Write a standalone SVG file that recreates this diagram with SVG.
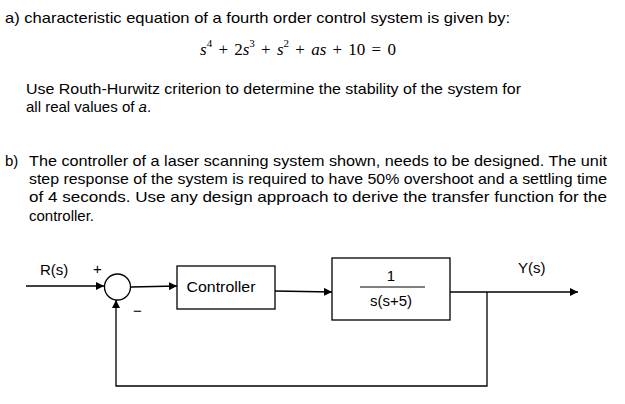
<svg xmlns="http://www.w3.org/2000/svg" width="625" height="404" viewBox="0 0 625 404">
<defs>
<style>
text{font-family:"Liberation Sans",Arial,sans-serif;font-size:15px;fill:#000}
.eq{font-family:"Liberation Serif","Times New Roman",serif;font-size:17px}
.sup{font-family:"Liberation Serif",serif;font-size:11px}
.ln{stroke:#000;stroke-width:1.3;fill:none}
.bx{stroke:#000;stroke-width:1.3;fill:#fff}
</style>
<marker id="ar" viewBox="0 0 10 10" refX="10" refY="5" markerWidth="8" markerHeight="8" orient="auto" markerUnits="userSpaceOnUse"><path d="M0,0 L10,5 L0,10 z" fill="#000"/></marker>
</defs>
<rect width="625" height="404" fill="#fff"/>
<text x="5" y="23" textLength="505" lengthAdjust="spacingAndGlyphs">a)  characteristic equation of a fourth order control system is given by:</text>
<text class="eq" y="55" word-spacing="2"><tspan x="200" font-style="italic">s</tspan><tspan class="sup" dy="-8">4</tspan><tspan dy="8"> + 2</tspan><tspan font-style="italic">s</tspan><tspan class="sup" dy="-8">3</tspan><tspan dy="8"> + </tspan><tspan font-style="italic">s</tspan><tspan class="sup" dy="-8">2</tspan><tspan dy="8"> + </tspan><tspan font-style="italic">as</tspan><tspan> + 10 = 0</tspan></text>
<text x="26" y="94" textLength="495" lengthAdjust="spacingAndGlyphs">Use Routh-Hurwitz criterion to determine the stability of the system for</text>
<text x="26" y="112">all real values of <tspan font-style="italic">a</tspan>.</text>
<text x="5" y="166">b)</text>
<text x="29" y="166" textLength="578" lengthAdjust="spacingAndGlyphs">The controller of a laser scanning system shown, needs to be designed. The unit</text>
<text x="29" y="184" textLength="578" lengthAdjust="spacingAndGlyphs">step response of the system is required to have 50% overshoot and a settling time</text>
<text x="29" y="202" textLength="578" lengthAdjust="spacingAndGlyphs">of 4 seconds. Use any design approach to derive the transfer function for the</text>
<text x="29" y="221">controller.</text>
<g id="sum"><circle cx="117.5" cy="287" r="13" class="bx"/></g>
<g id="controller"><rect x="177" y="266" width="98" height="43" class="bx"/><text x="221" y="292" text-anchor="middle" textLength="69" lengthAdjust="spacingAndGlyphs">Controller</text></g>
<g id="plant"><rect x="332" y="258" width="118" height="62" class="bx"/><text x="391" y="281" text-anchor="middle">1</text><line x1="360" y1="287" x2="425" y2="287" stroke="#000" stroke-width="1"/><text x="391" y="306" text-anchor="middle">s(s+5)</text></g>
<g id="connectors">
<line class="ln" x1="26" y1="286" x2="104" y2="286" marker-end="url(#ar)"/>
<line class="ln" x1="131" y1="287" x2="177" y2="286" marker-end="url(#ar)"/>
<line class="ln" x1="275" y1="291" x2="332" y2="292" marker-end="url(#ar)"/>
<line class="ln" x1="450" y1="292" x2="578" y2="292" marker-end="url(#ar)"/>
<polyline class="ln" points="487,292 487,386 116,386 116,300" marker-end="url(#ar)"/>
</g>
<text x="40" y="275">R(s)</text>
<text x="93" y="274" font-size="12">+</text>
<text x="133" y="316" font-size="13">−</text>
<text x="518" y="273">Y(s)</text>
</svg>
